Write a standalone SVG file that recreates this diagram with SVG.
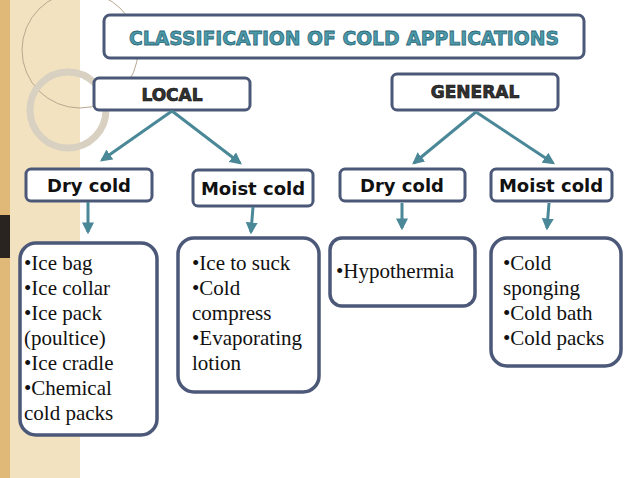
<svg xmlns="http://www.w3.org/2000/svg" width="638" height="478" viewBox="0 0 638 478">
<style>
.hb{fill:#fff;stroke:#4b5878;stroke-width:3}
.cb{fill:#fff;stroke:#4b5878;stroke-width:3.5}
.h{font-family:"DejaVu Sans",sans-serif;font-weight:bold;font-size:18px;fill:#111;text-anchor:middle}
.g{font-family:"DejaVu Sans",sans-serif;font-weight:bold;font-size:17px;fill:#333;stroke:#111;stroke-width:0.7;text-anchor:middle}
.t{font-family:"Liberation Serif",serif;font-size:21px;fill:#111}
.c{stroke:#4a8898;stroke-width:3;fill:none;marker-end:url(#a)}
</style>
<defs><marker id="a" viewBox="0 0 10 10" refX="8" refY="5" markerWidth="4" markerHeight="4" orient="auto"><path d="M0,0L10,5L0,10z" fill="#4a8898"/></marker></defs>
<rect width="638" height="478" fill="#fff"/>
<rect width="80" height="478" fill="#f3e2c0"/>
<rect width="10" height="478" fill="#e0b878"/>
<rect x="0" y="215" width="10" height="43" fill="#2a2420"/>
<circle cx="80" cy="50" r="58" fill="none" stroke="#b8a890" stroke-width="1"/>
<circle cx="68" cy="110" r="38" fill="none" stroke="#d8d0c0" stroke-width="7"/>
<g id="title"><rect class="hb" x="104" y="15" width="480" height="43" rx="6"/><text x="344" y="45" text-anchor="middle" font-family="DejaVu Sans,sans-serif" font-weight="bold" font-size="19.5" fill="#4a9aaa" stroke="#2f6878" stroke-width="0.8" textLength="430" lengthAdjust="spacingAndGlyphs">CLASSIFICATION OF COLD APPLICATIONS</text></g>
<g id="local"><rect class="hb" x="94" y="78" width="156" height="32" rx="5"/><text class="g" x="172" y="101">LOCAL</text></g>
<g id="general"><rect class="hb" x="392" y="74" width="166" height="36" rx="5"/><text class="g" x="475" y="98">GENERAL</text></g>
<g id="dry1"><rect class="hb" x="26" y="169" width="126" height="32" rx="5"/><text class="h" x="89" y="192">Dry cold</text></g>
<g id="moist1"><rect class="hb" x="193" y="170" width="120" height="36" rx="5"/><text class="h" x="253" y="195">Moist cold</text></g>
<g id="dry2"><rect class="hb" x="340" y="169" width="125" height="32" rx="5"/><text class="h" x="402" y="192">Dry cold</text></g>
<g id="moist2"><rect class="hb" x="491" y="169" width="121" height="32" rx="5"/><text class="h" x="551" y="192">Moist cold</text></g>
<g id="list1"><rect class="cb" x="20" y="243" width="137" height="192" rx="16"/><text class="t"><tspan x="24" y="270">•Ice bag</tspan><tspan x="24" y="295">•Ice collar</tspan><tspan x="24" y="320">•Ice pack</tspan><tspan x="24" y="345">(poultice)</tspan><tspan x="24" y="370">•Ice cradle</tspan><tspan x="24" y="395">•Chemical</tspan><tspan x="24" y="420">cold packs</tspan></text></g>
<g id="list2"><rect class="cb" x="178" y="238" width="141" height="154" rx="16"/><text class="t"><tspan x="192" y="270">•Ice to suck</tspan><tspan x="192" y="295">•Cold</tspan><tspan x="192" y="320">compress</tspan><tspan x="192" y="345">•Evaporating</tspan><tspan x="192" y="370">lotion</tspan></text></g>
<g id="list3"><rect class="cb" x="330" y="238" width="145" height="68" rx="12"/><text class="t" x="336" y="278" font-size="18.5">•Hypothermia</text></g>
<g id="list4"><rect class="cb" x="491" y="238" width="130" height="128" rx="16"/><text class="t"><tspan x="503" y="270">•Cold</tspan><tspan x="503" y="295">sponging</tspan><tspan x="503" y="320">•Cold bath</tspan><tspan x="503" y="345">•Cold packs</tspan></text></g>
<g id="connectors">
<path class="c" d="M172,111L102,160"/><path class="c" d="M172,111L240,163"/>
<path class="c" d="M476,112L414,163"/><path class="c" d="M476,112L553,163"/>
<path class="c" d="M88,202V232"/><path class="c" d="M253,207L251,232"/>
<path class="c" d="M402,203V228"/><path class="c" d="M549,203L547,228"/>
</g>
</svg>
